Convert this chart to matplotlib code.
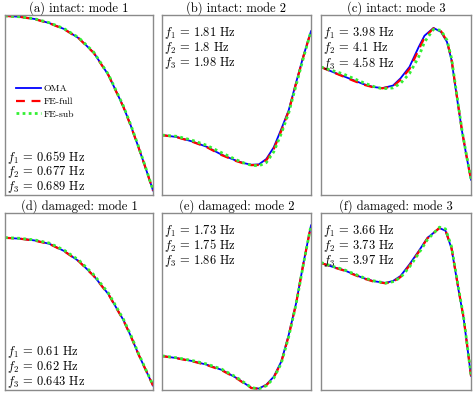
import matplotlib
matplotlib.use("Agg")
import matplotlib.pyplot as plt

# ==================================
# Data (normalised mode shapes)
# ==================================
titles = ["(a) intact: mode 1", "(b) intact: mode 2", "(c) intact: mode 3",
          "(d) damaged: mode 1", "(e) damaged: mode 2", "(f) damaged: mode 3"]

freqs = [["0.659", "0.677", "0.689"],
         ["1.81", "1.8", "1.98"],
         ["3.98", "4.1", "4.58"],
         ["0.61", "0.62", "0.643"],
         ["1.73", "1.75", "1.86"],
         ["3.66", "3.73", "3.97"]]

# mode 1 (a, d)
x_m1 = [0, 0.1, 0.2, 0.3, 0.4, 0.5, 0.6, 0.7, 0.8, 0.85, 0.9, 0.95, 1.0]
oma_a    = [0.995, 0.99, 0.978, 0.955, 0.922, 0.87, 0.79, 0.665, 0.49, 0.385, 0.27, 0.15, 0.025]
full_a   = [0.995, 0.99, 0.977, 0.954, 0.921, 0.869, 0.789, 0.664, 0.489, 0.384, 0.27, 0.15, 0.025]
sub_a    = [0.995, 0.99, 0.979, 0.957, 0.924, 0.873, 0.793, 0.668, 0.494, 0.389, 0.274, 0.153, 0.028]
oma_d    = [0.86, 0.855, 0.845, 0.826, 0.785, 0.727, 0.645, 0.54, 0.395, 0.305, 0.205, 0.115, 0.025]
full_d   = [0.86, 0.855, 0.844, 0.825, 0.784, 0.726, 0.644, 0.539, 0.394, 0.304, 0.205, 0.115, 0.025]
sub_d    = [0.861, 0.857, 0.848, 0.83, 0.79, 0.733, 0.651, 0.546, 0.4, 0.31, 0.21, 0.118, 0.028]

# mode 2 (b, e)
x_m2 = [0, 0.1, 0.2, 0.3, 0.4, 0.5, 0.55, 0.6, 0.65, 0.7, 0.75, 0.8, 0.85, 0.9, 0.95, 1.0]
oma_b    = [0.333, 0.322, 0.298, 0.268, 0.224, 0.19, 0.177, 0.168, 0.17, 0.2, 0.265, 0.365, 0.47, 0.625, 0.775, 0.91]
full_b   = [0.333, 0.321, 0.297, 0.266, 0.222, 0.188, 0.175, 0.166, 0.167, 0.193, 0.255, 0.355, 0.465, 0.62, 0.772, 0.91]
sub_b    = [0.333, 0.326, 0.305, 0.276, 0.235, 0.195, 0.178, 0.165, 0.162, 0.18, 0.24, 0.34, 0.455, 0.61, 0.765, 0.91]
oma_e    = [0.192, 0.18, 0.164, 0.143, 0.114, 0.068, 0.04, 0.012, 0.008, 0.03, 0.075, 0.16, 0.31, 0.49, 0.72, 0.93]
full_e   = [0.192, 0.179, 0.163, 0.141, 0.112, 0.066, 0.038, 0.011, 0.007, 0.027, 0.07, 0.155, 0.305, 0.488, 0.718, 0.93]
sub_e    = [0.193, 0.182, 0.167, 0.147, 0.118, 0.072, 0.043, 0.014, 0.006, 0.024, 0.066, 0.15, 0.3, 0.485, 0.715, 0.93]

# mode 3 (c, f)
x_c = [0, 0.08, 0.15, 0.21, 0.28, 0.35, 0.41, 0.48, 0.53, 0.59, 0.65, 0.69, 0.75, 0.8, 0.84, 0.87, 0.91, 0.94, 0.97, 1.0]
oma_c    = [0.711, 0.683, 0.66, 0.64, 0.617, 0.6, 0.594, 0.608, 0.648, 0.712, 0.82, 0.885, 0.928, 0.906, 0.85, 0.75, 0.52, 0.355, 0.215, 0.085]
full_c   = [0.711, 0.682, 0.658, 0.637, 0.614, 0.598, 0.593, 0.603, 0.64, 0.7, 0.805, 0.875, 0.926, 0.91, 0.855, 0.755, 0.525, 0.358, 0.217, 0.085]
sub_c    = [0.711, 0.69, 0.672, 0.65, 0.625, 0.603, 0.59, 0.595, 0.62, 0.675, 0.765, 0.85, 0.92, 0.915, 0.86, 0.76, 0.53, 0.36, 0.22, 0.09]
x_f = [0, 0.08, 0.15, 0.21, 0.28, 0.35, 0.43, 0.48, 0.53, 0.59, 0.65, 0.71, 0.79, 0.83, 0.87, 0.89, 0.92, 0.95, 0.97, 1.0]
oma_f    = [0.718, 0.695, 0.678, 0.657, 0.633, 0.615, 0.605, 0.616, 0.644, 0.71, 0.783, 0.86, 0.915, 0.9, 0.8, 0.7, 0.55, 0.41, 0.28, 0.08]
full_f   = [0.718, 0.694, 0.676, 0.655, 0.631, 0.613, 0.603, 0.612, 0.638, 0.703, 0.778, 0.857, 0.916, 0.902, 0.803, 0.703, 0.553, 0.412, 0.282, 0.08]
sub_f    = [0.72, 0.698, 0.681, 0.66, 0.636, 0.617, 0.604, 0.612, 0.635, 0.695, 0.77, 0.85, 0.92, 0.91, 0.81, 0.71, 0.56, 0.415, 0.285, 0.085]

panels = [(x_m1, oma_a, full_a, sub_a), (x_m2, oma_b, full_b, sub_b), (x_c, oma_c, full_c, sub_c),
          (x_m1, oma_d, full_d, sub_d), (x_m2, oma_e, full_e, sub_e), (x_f, oma_f, full_f, sub_f)]

# where the frequency block sits: bottom (mode 1) or top (modes 2, 3)
text_top = [False, True, True, False, True, True]

# ==================================
# Plot
# ==================================
plt.rcParams["font.family"] = "serif"
plt.rcParams["font.serif"] = ["cmr10"]
plt.rcParams["mathtext.fontset"] = "cm"
plt.rcParams["axes.formatter.use_mathtext"] = True

fig = plt.figure(figsize=(4.74, 3.96), dpi=100)

lefts = [5, 162, 321]
widths = [148, 149, 150]
rows = [(15, 180), (213, 177)]   # (top px, height px)
W, H = 474, 396

for i in range(6):
    r, c = divmod(i, 3)
    top, h = rows[r]
    ax = fig.add_axes([lefts[c] / W, 1 - (top + h) / H, widths[c] / W, h / H])
    x, oma, full, sub = panels[i]
    ax.plot(x, oma, color="#0000ff", lw=1.3, label="OMA")
    ax.plot(x, full, color="#ff0000", lw=1.6, ls=(0, (4, 3)), label="FE-full")
    ax.plot(x, sub, color="#33f033", lw=2.0, ls=(0, (1, 1.2)), label="FE-sub")
    ax.set_xlim(0, 1)
    ax.set_ylim(0, 1)
    ax.set_xticks([])
    ax.set_yticks([])
    for sp in ax.spines.values():
        sp.set_color("#8a8a8a")
        sp.set_linewidth(1.0)
    ax.set_title(titles[i], fontsize=9, pad=2)

    # 15 px between the frequency lines
    step = 15 / h
    y0 = 0.9 if text_top[i] else 0.044 + 2 * step
    for k in range(3):
        ax.text(0.012, y0 - k * step, rf"$f_{k + 1}\,=\,{freqs[i][k]}$ Hz", transform=ax.transAxes,
                fontsize=9, va="center", ha="left")

    if i == 0:
        ax.legend(loc="upper left", bbox_to_anchor=(0.04, 0.64), frameon=False, fontsize=7,
                  handlelength=2.6, handletextpad=0.3, labelspacing=0.4, borderpad=0)

fig.savefig("out.png", dpi=100)
